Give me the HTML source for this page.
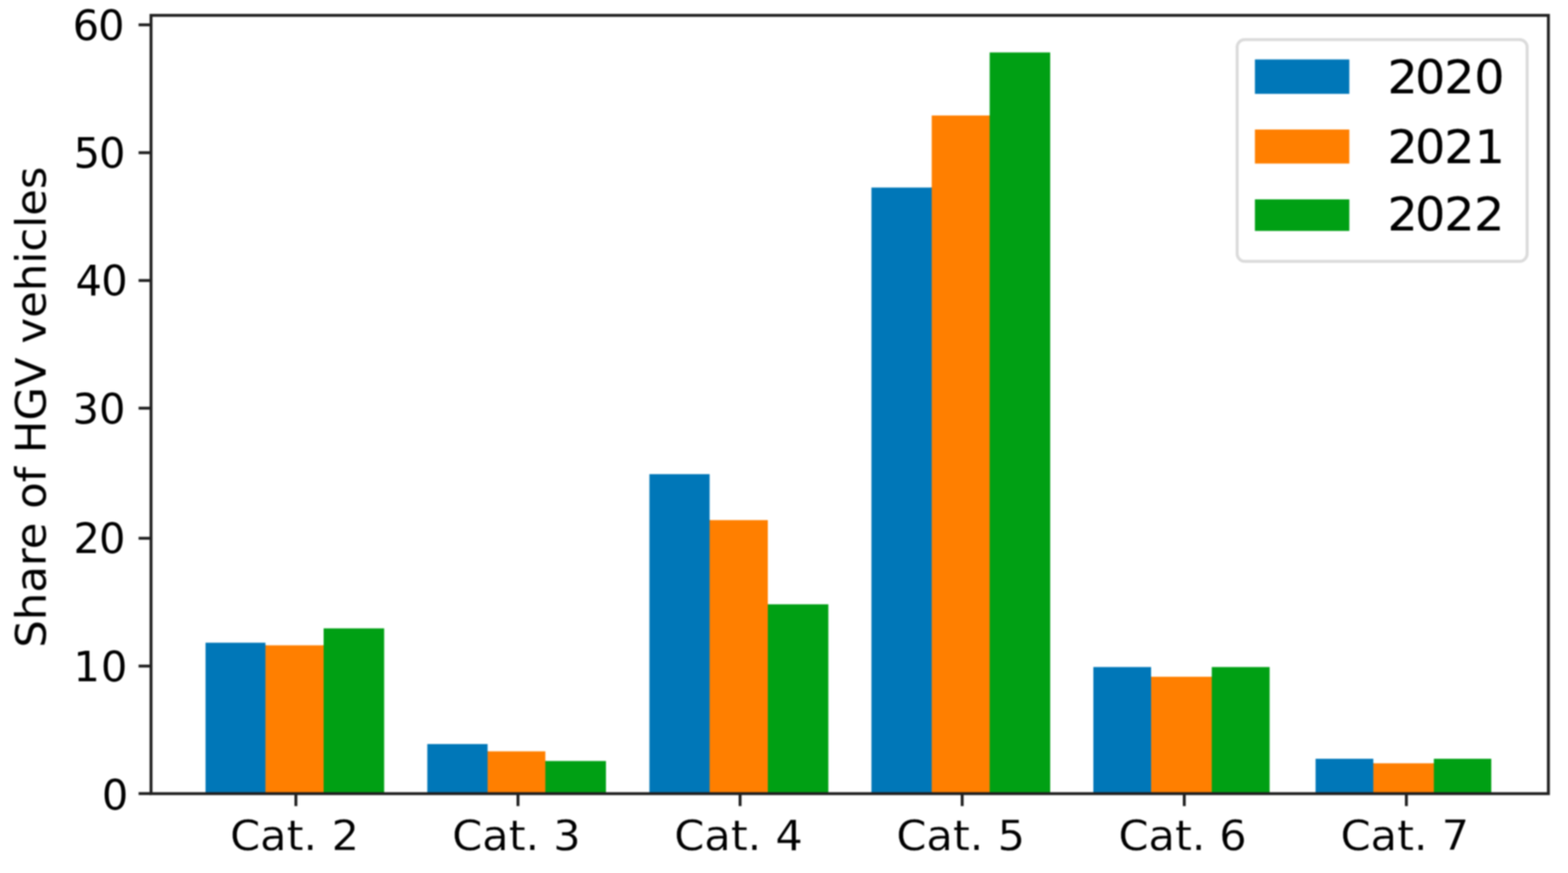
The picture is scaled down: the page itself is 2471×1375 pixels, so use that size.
<!DOCTYPE html>
<html lang="en"><head><meta charset="utf-8"><title>Share of HGV vehicles</title>
<style>
html,body{margin:0;padding:0;background:#fff;}
body{width:2471px;height:1375px;overflow:hidden;}
svg{display:block;}
</style></head><body>
<svg width="2471" height="1375" viewBox="0 0 2471 1375" font-family='"DejaVu Sans","Liberation Sans",sans-serif' fill="#000">
<defs><filter id="b" x="-2%" y="-2%" width="104%" height="104%" color-interpolation-filters="sRGB"><feGaussianBlur stdDeviation="1.2"/></filter></defs>
<rect width="2471" height="1375" fill="#fff"/>
<g filter="url(#b)">
<g id="bars">
<rect x="323.9" y="1012.3" width="94.4" height="237.7" fill="#0077b8"/>
<rect x="416.8" y="1016.4" width="3" height="233.6" fill="#0077b8"/>
<rect x="418.3" y="1016.4" width="91.7" height="233.6" fill="#ff7f00"/>
<rect x="508.5" y="1016.4" width="3" height="233.6" fill="#ff7f00"/>
<rect x="510.0" y="989.7" width="95.4" height="260.3" fill="#00a014"/>
<rect x="673.4" y="1171.9" width="95.0" height="78.1" fill="#0077b8"/>
<rect x="766.9" y="1183.4" width="3" height="66.6" fill="#0077b8"/>
<rect x="768.4" y="1183.4" width="91.0" height="66.6" fill="#ff7f00"/>
<rect x="857.9" y="1198.6" width="3" height="51.4" fill="#ff7f00"/>
<rect x="859.4" y="1198.6" width="95.5" height="51.4" fill="#00a014"/>
<rect x="1023.4" y="746.8" width="94.9" height="503.2" fill="#0077b8"/>
<rect x="1116.8" y="819.2" width="3" height="430.8" fill="#0077b8"/>
<rect x="1118.3" y="819.2" width="91.7" height="430.8" fill="#ff7f00"/>
<rect x="1208.5" y="951.8" width="3" height="298.2" fill="#ff7f00"/>
<rect x="1210.0" y="951.8" width="95.4" height="298.2" fill="#00a014"/>
<rect x="1373.3" y="295.4" width="95.0" height="954.6" fill="#0077b8"/>
<rect x="1466.8" y="295.4" width="3" height="954.6" fill="#0077b8"/>
<rect x="1468.3" y="181.9" width="91.3" height="1068.1" fill="#ff7f00"/>
<rect x="1558.1" y="181.9" width="3" height="1068.1" fill="#ff7f00"/>
<rect x="1559.6" y="82.6" width="95.4" height="1167.4" fill="#00a014"/>
<rect x="1723.0" y="1050.6" width="91.0" height="199.4" fill="#0077b8"/>
<rect x="1812.5" y="1065.9" width="3" height="184.1" fill="#0077b8"/>
<rect x="1814.0" y="1065.9" width="95.6" height="184.1" fill="#ff7f00"/>
<rect x="1908.1" y="1065.9" width="3" height="184.1" fill="#ff7f00"/>
<rect x="1909.6" y="1050.6" width="91.2" height="199.4" fill="#00a014"/>
<rect x="2073.2" y="1195.1" width="91.0" height="54.9" fill="#0077b8"/>
<rect x="2162.7" y="1202.2" width="3" height="47.8" fill="#0077b8"/>
<rect x="2164.2" y="1202.2" width="95.4" height="47.8" fill="#ff7f00"/>
<rect x="2258.1" y="1202.2" width="3" height="47.8" fill="#ff7f00"/>
<rect x="2259.6" y="1195.1" width="90.5" height="54.9" fill="#00a014"/>
</g>
<g id="axes" stroke="#202020" stroke-width="4.6" fill="none">
<rect x="238.0" y="24.2" width="2202.1" height="1225.8"/>
<line x1="218.4" x2="238.0" y1="1249.9" y2="1249.9"/>
<line x1="218.4" x2="238.0" y1="1049.1" y2="1049.1"/>
<line x1="218.4" x2="238.0" y1="847.8" y2="847.8"/>
<line x1="218.4" x2="238.0" y1="642.9" y2="642.9"/>
<line x1="218.4" x2="238.0" y1="441.8" y2="441.8"/>
<line x1="218.4" x2="238.0" y1="240.5" y2="240.5"/>
<line x1="218.4" x2="238.0" y1="39.1" y2="39.1"/>
<line x1="466.3" x2="466.3" y1="1250.0" y2="1269.6"/>
<line x1="816.3" x2="816.3" y1="1250.0" y2="1269.6"/>
<line x1="1166.3" x2="1166.3" y1="1250.0" y2="1269.6"/>
<line x1="1516.3" x2="1516.3" y1="1250.0" y2="1269.6"/>
<line x1="1866.3" x2="1866.3" y1="1250.0" y2="1269.6"/>
<line x1="2216.3" x2="2216.3" y1="1250.0" y2="1269.6"/>
</g>
<g id="ylabels">
<text transform="matrix(1 0 0 1 0 1274.5)" x="160.4" y="0" font-size="65.6">0</text>
<text transform="matrix(1 0 0 1 0 1073.0)" x="115.7 159.0" y="0" font-size="65.6">10</text>
<text transform="matrix(1 0 0 1 0 871.4)" x="115.7 156.0" y="0" font-size="65.6">20</text>
<text transform="matrix(1 0 0 1 0 666.6)" x="114.3 156.0" y="0" font-size="65.6">30</text>
<text transform="matrix(1 0 0 1 0 465.4)" x="119.1 159.5" y="0" font-size="65.6">40</text>
<text transform="matrix(1 0 0 1 0 263.9)" x="116.1 156.0" y="0" font-size="65.6">50</text>
<text transform="matrix(1 0 0 1 0 62.7)" x="114.5 154.6" y="0" font-size="65.6">60</text>
</g>
<g id="xlabels" stroke="#fff" stroke-width="0.35">
<text transform="matrix(1 0 0 0.97 0 1338.6)" x="362.4 409.8 451.7 478.1 499.8 522.5" y="0" font-size="68.3">Cat. 2</text>
<text transform="matrix(1 0 0 0.97 0 1338.6)" x="712.4 759.8 801.7 828.1 849.8 871.7" y="0" font-size="68.3">Cat. 3</text>
<text transform="matrix(1 0 0 0.97 0 1338.6)" x="1062.4 1109.8 1151.7 1178.1 1199.8 1221.8" y="0" font-size="68.3">Cat. 4</text>
<text transform="matrix(1 0 0 0.97 0 1338.6)" x="1412.4 1459.8 1501.7 1528.1 1549.8 1571.9" y="0" font-size="68.3">Cat. 5</text>
<text transform="matrix(1 0 0 0.97 0 1338.6)" x="1762.4 1809.8 1851.7 1878.1 1899.8 1921.3" y="0" font-size="68.3">Cat. 6</text>
<text transform="matrix(1 0 0 0.97 0 1338.6)" x="2112.4 2159.8 2201.7 2228.1 2249.8 2271.7" y="0" font-size="68.3">Cat. 7</text>
</g>
<text transform="translate(71.6,1020.1) rotate(-90) scale(1,0.965)" font-size="68.3">Share of HGV vehicles</text>
<g id="legend" stroke="#000" stroke-width="0" >
<rect x="1949.6" y="62.4" width="457.0" height="349.2" rx="12" ry="12" fill="#fff" fill-opacity="0.8" stroke="#dbdbdb" stroke-width="4.8"/>
<rect x="1977.6" y="93.6" width="148.8" height="54.2" fill="#0077b8"/>
<rect x="1977.6" y="204.0" width="148.8" height="53.6" fill="#ff7f00"/>
<rect x="1977.6" y="314.0" width="148.8" height="49.7" fill="#00a014"/>
<g stroke-width="0.25" stroke-linejoin="round">
<text transform="matrix(1 0 0 0.962 0 146.8)" x="2186.4 2229.9 2276.0 2323.3" y="0" font-size="75.1">2020</text>
<text transform="matrix(1 0 0 0.962 0 257.0)" x="2186.4 2229.9 2276.0 2323.8" y="0" font-size="75.1">2021</text>
<text transform="matrix(1 0 0 0.962 0 363.4)" x="2186.4 2229.9 2276.0 2323.1" y="0" font-size="75.1">2022</text>
</g>
</g>
</g>
</svg>
</body></html>
